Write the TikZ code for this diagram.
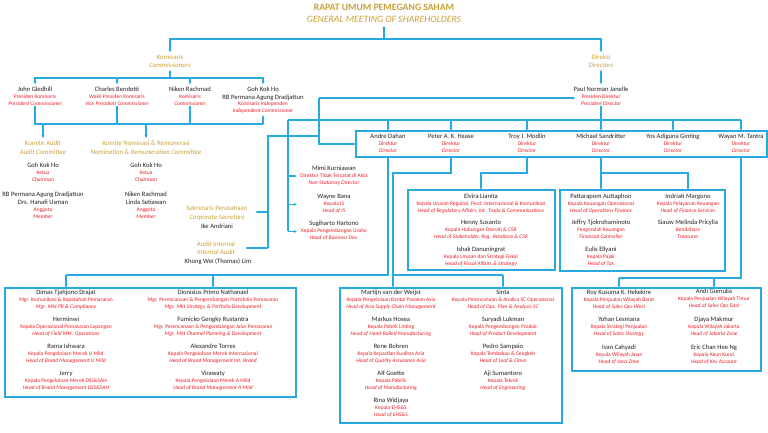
\documentclass[tikz,border=0pt]{standalone}
\usepackage{fontspec}
\setmainfont{Carlito}
\usepackage{tikz}
\usetikzlibrary{positioning,arrows.meta}
\usepackage{xcolor}
\definecolor{linkblue}{HTML}{29A9E1}
\definecolor{gold}{HTML}{C9A13A}
\definecolor{rolered}{HTML}{EC1C24}
\definecolor{ink}{HTML}{231F20}

\begin{document}
\begin{tikzpicture}[x=1pt, y=-1pt,
    nm/.style={font=\fontsize{6.6}{7}\selectfont, text=ink, inner sep=0pt, anchor=base, yshift=-2.2pt},
    rl/.style={font=\fontsize{5.5}{6}\selectfont, text=rolered, inner sep=0pt, anchor=base, yshift=-1.9pt},
    rli/.style={font=\fontsize{5.5}{6}\selectfont\itshape, text=rolered, inner sep=0pt, anchor=base, yshift=-1.9pt},
    gd/.style={font=\fontsize{6.8}{7}\selectfont, text=gold, inner sep=0pt, anchor=base, yshift=-2.3pt},
    gdi/.style={font=\fontsize{6.8}{7}\selectfont\itshape, text=gold, inner sep=0pt, anchor=base, yshift=-2.3pt},
    link/.style={draw=linkblue, line width=1.1pt},
    tip/.style={link, -{Latex[length=3.2pt,width=3.2pt]}},
    unit/.style={draw=linkblue, line width=1.2pt}]
    \useasboundingbox (0,0) rectangle (768,433);

    \node[font=\fontsize{9.7}{10}\selectfont\bfseries, text=gold, inner sep=0pt, anchor=base, yshift=-3.3pt] (rups) at (384,7) {RAPAT UMUM PEMEGANG SAHAM};
    \node[font=\fontsize{9.7}{10}\selectfont\itshape, text=gold, inner sep=0pt, anchor=base, yshift=-3.3pt] (gms) at (384,19) {GENERAL MEETING OF SHAREHOLDERS};

    \node[gd] (kom) at (170,57) {Komisaris};
    \node[gdi] (kom-e) at (170,65) {Commissioners};
    \node[gd] (dir) at (601,57) {Direksi};
    \node[gdi] (dir-e) at (601,65) {Directors};

    % people: name, role, role in english
    \foreach \id/\x/\y/\pn/\ra/\rb in {
        john/35/89/{John Gledhill}/{Presiden Komisaris}/{President Commissioner},
        charles/117/89/{Charles Bendotti}/{Wakil Presiden Komisaris}/{Vice President Commissioner},
        niken/190/89/{Niken Rachmad}/{Komisaris}/{Commissioner},
        paul/601/89/{Paul Norman Janelle}/{Presiden Direktur}/{President Director},
        andre/388/136/{Andre Dahan}/{Direktur}/{Director},
        peter/451/136/{Peter A. K. Haase}/{Direktur}/{Director},
        troy/527/136/{Troy J. Modlin}/{Direktur}/{Director},
        michael/601/136/{Michael Sandritter}/{Direktur}/{Director},
        yos/673/136/{Yos Adiguna Ginting}/{Direktur}/{Director},
        wayan/741/136/{Wayan M. Tantra}/{Direktur}/{Director},
        mimi/334/168/{Mimi Kurniawan}/{Direktur Tidak Tercatat di Akta}/{Non-Statutory Director},
        wayne/334/196/{Wayne Bana}/{Kepala IS}/{Head of IS},
        sugi/334/223/{Sugiharto Hartono}/{Kepala Pengembangan Usaha}/{Head of Business Dev.},
        elvira/481/196/{Elvira Lianita}/{Kepala Urusan Regulasi, Perd. Internasional \& Komunikasi}/{Head of Regulatory Affairs, Int. Trade \& Communications},
        henny/481/222/{Henny Susanto}/{Kepala Hubungan Daerah \& CSR}/{Head of Stakeholder, Reg. Relations \& CSR},
        ishak/481/249/{Ishak Danuningrat}/{Kepala Urusan dan Strategi Fiskal}/{Head of Fiscal Affairs \& Strategy},
        pattarapom/601/196/{Pattarapom Auttaphon}/{Kepala Keuangan Operasional}/{Head of Operations Finance},
        indriati/688/196/{Indriati Margono}/{Kepala Pelayanan Keuangan}/{Head of Finance Services},
        jeffry/601/222/{Jeffry Tjokrohaminoto}/{Pengendali Keuangan}/{Financial Controller},
        siauw/688/222/{Siauw Melinda Pricylia}/{Bendahara}/{Treasurer},
        eulis/601/249/{Eulis Ellyani}/{Kepala Pajak}/{Head of Tax},
        dimas/66/292/{Dimas Tjahjono Drajat}/{Mgr. Komunikasi \& Kepatuhan Pemasaran}/{Mgr. Mkt PR \& Compliance},
        herminwi/66/319/{Herminwi}/{Kepala Operasional Pemasaran Lapangan}/{Head of Field Mkt. Operations},
        rama/66/346/{Rama Ishwara}/{Kepala Pengelolaan Merek U Mild}/{Head of Brand Management U Mild},
        jerry/66/373/{Jerry}/{Kepala Pengelolaan Merek DSS\&SAH}/{Head of Brand Management DSS\&SAH},
        dionisius/213/292/{Dionisius Primo Nathanael}/{Mgr. Perencanaan \& Pengembangan Portofolio Pemasaran}/{Mgr. Mkt Strategy \& Portfolio Development},
        fumicko/213/319/{Fumicko Gengky Rustantra}/{Mgr. Perencanaan \& Pengembangan Jalur Pemasaran}/{Mgr. Mkt Channel Planning \& Development},
        alexandre/213/346/{Alexandre Torres}/{Kepala Pengelolaan Merek Internasional}/{Head of Brand Management Int. Brand},
        virawaty/213/373/{Virawaty}/{Kepala Pengelolaan Merek A Mild}/{Head of Brand Management A Mild},
        martijn/391/292/{Martijn van der Weijst}/{Kepala Pengelolaan Rantai Pasokan Asia}/{Head of Asia Supply Chain Management},
        markus/391/319/{Markus Hosea}/{Kepala Pabrik Linting}/{Head of Hand-Rolled Manufacturing},
        rene/391/346/{Rene Bohren}/{Kepala Kepastian Kualitas Asia}/{Head of Quality Assurance Asia},
        alf/391/373/{Alf Goette}/{Kepala Pabrik}/{Head of Manufacturing},
        rina/391/400/{Rina Widjaya}/{Kepala EHS\&S}/{Head of EHS\&S},
        sinta/503/292/{Sinta}/{Kepala Perencanaan \& Analisa SC Operasional}/{Head of Ops. Plan \& Analysis SC},
        suryadi/503/319/{Suryadi Lukman}/{Kepala Pengembangan Produk}/{Head of Product Development},
        pedro/503/346/{Pedro Sampaio}/{Kepala Tembakau \& Cengkeh}/{Head of Leaf \& Clove},
        aji/503/373/{Aji Sumantoro}/{Kepala Teknik}/{Head of Engineering},
        roy/619/292/{Roy Kusuma K. Hekekire}/{Kepala Penjualan Wilayah Barat}/{Head of Sales Ops West},
        andi/714/291/{Andi Gumulia}/{Kepala Penjualan Wilayah Timur}/{Head of Sales Ops East},
        yohan/619/319/{Yohan Lesmana}/{Kepala Strategi Penjualan}/{Head of Sales Strategy},
        djaya/714/319/{Djaya Makmur}/{Kepala Wilayah Jakarta}/{Head of Jakarta Zone},
        ivan/619/347/{Ivan Cahyadi}/{Kepala Wilayah Jawa}/{Head of Java Zone},
        eric/714/347/{Eric Chan Hee Ng}/{Kepala Akun Kunci}/{Head of Key Account}}
    {
        \node[nm] (\id) at (\x,\y) {\pn};
        \node[rl] (\id-r) at (\x,\y+8) {\ra};
        \node[rli] (\id-e) at (\x,\y+15) {\rb};
    }

    \node[nm] (goh) at (263,89) {Goh Kok Ho};
    \node[nm] (goh-b) at (263,97) {RB Permana Agung Dradjattun};
    \node[rl] (goh-r) at (263,104) {Komisaris Independen};
    \node[rli] (goh-e) at (263,111) {Independent Commissioner};

    % committees
    \node[gd] (audit) at (43,143) {Komite Audit};
    \node[gdi] (audit-e) at (43,152) {Audit Committee};
    \node[gd] (nomrem) at (146,143) {Komite Nominasi \& Remunerasi};
    \node[gdi] (nomrem-e) at (146,152) {Nomination \& Remuneration Committee};
    \foreach \c/\x/\ma/\mb in {ac/43/{RB Permana Agung Dradjattun}/{Drs. Hanafi Usman}, nc/146/{Niken Rachmad}/{Linda Setiawan}} {
        \node[nm] (\c-chair) at (\x,165) {Goh Kok Ho};
        \node[rl] at (\x,173) {Ketua};
        \node[rli] at (\x,180) {Chairman};
        \node[nm] (\c-ma) at (\x,194) {\ma};
        \node[nm] (\c-mb) at (\x,202) {\mb};
        \node[rl] at (\x,210) {Anggota};
        \node[rli] at (\x,217) {Member};
    }

    \node[gd] (sek) at (217,208) {Sekretaris Perusahaan};
    \node[gdi] (sek-e) at (217,217) {Corporate Secretary};
    \node[nm] (ike) at (217,226) {Ike Andriani};
    \node[gd] (ia) at (216,244) {Audit Internal};
    \node[gdi] (ia-e) at (216,252) {Internal Audit};
    \node[nm] (khong) at (218,261) {Khong Wei (Thomas) Lim};

    % frames
    \draw[unit] (356,131) coordinate (dirtop) rectangle (767,157) coordinate (dirbot);
    \draw[unit] (408,190) coordinate (regtop) rectangle (555,270);
    \draw[unit] (560,190) coordinate (fintop) rectangle (725,271);
    \draw[unit] (5,288) coordinate (mkttop) rectangle (296,397);
    \draw[unit] (340,288) coordinate (sctop) rectangle (562,423);
    \draw[unit] (572,288) coordinate (saltop) rectangle (761,371);

    % connectors
    \coordinate (gmsbar) at (384,39);
    \draw[link, {Latex[length=3.2pt,width=3.2pt]}-] ([yshift=-3pt]gms.south) -- (gmsbar);
    \draw[tip] (gmsbar) -| ([yshift=2pt]kom.north);
    \draw[tip] (gmsbar) -| ([yshift=2pt]dir.north);

    \coordinate (combar) at (170,78);
    \draw[link, {Latex[length=3.2pt,width=3.2pt]}-] ([yshift=-2pt]kom-e.south) -- (combar);
    \foreach \p in {john, charles, niken, goh}
        \draw[tip] (combar) -| ([yshift=2pt]\p.north);
    \draw[link, {Latex[length=3.2pt,width=3.2pt]}-{Latex[length=3.2pt,width=3.2pt]}] ([yshift=-2pt]dir-e.south) -- ([yshift=2pt]paul.north);

    \coordinate (cmbar) at (35,124);
    \draw[link] (john-e.south) -- (cmbar) -- (goh-e.south |- cmbar);
    \draw[link] (charles-e.south) -- (charles-e.south |- cmbar);
    \draw[link] (niken-e.south) -- (niken-e.south |- cmbar);
    \draw[tip] (goh-e.south |- cmbar) -- ([yshift=-1pt]goh-e.south);
    \draw[tip] (audit.north |- cmbar) -- ([yshift=2pt]audit.north);
    \draw[tip] (nomrem.north |- cmbar) -- ([yshift=2pt]nomrem.north);

    \coordinate (dbar) at (288,120);
    \draw[link] (paul-e.south) -- (paul-e.south |- dbar);
    \draw[link] (dbar) -- (wayan.north |- dbar);
    \foreach \d in {andre, peter, troy, michael, yos, wayan}
        \draw[tip] (\d.north |- dbar) -- (\d.north |- dirtop);

    \coordinate (pbend) at (319,98);
    \coordinate (dirwest) at (356,144);
    \draw[tip] (pbend) -- ([xshift=-6pt]paul-r.west |- pbend);
    \draw[tip] (pbend) |- (dirwest);

    \coordinate (sekbar) at (268,136);
    \coordinate (sekin) at (255,212);
    \coordinate (iain) at (245,248);
    \draw[link] (pbend |- sekbar) -- (sekbar) -- (sekbar |- iain);
    \draw[tip] (sekbar |- sekin) -- (sekin);
    \draw[tip] (sekbar |- iain) -- (iain);

    \coordinate (sidein) at (297,0);
    \draw[link] (dbar) -- (dbar |- sugi-r);
    \foreach \s in {mimi, wayne, sugi}
        \draw[tip] (dbar |- \s-r) -- (sidein |- \s-r);

    \coordinate (mbar) at (388,275);
    \draw[link] (andre.south |- dirbot) -- (mbar) -- (dimas.north |- mbar);
    \foreach \p in {dimas, dionisius}
        \draw[tip] (\p.north |- mbar) -- (\p.north |- mkttop);

    \coordinate (pcor) at (393,173);
    \draw[link] (peter.south |- dirbot) |- (pcor) -- (pcor |- mbar) -- (sinta.north |- mbar);
    \draw[tip] (pcor |- mbar) -- (pcor |- sctop);
    \draw[tip] (sinta.north |- mbar) -- (sinta.north |- sctop);

    \draw[tip] (troy.south |- dirbot) -- (troy.south |- pcor) -| (elvira.north |- regtop);
    \draw[tip] (michael.south |- dirbot) -- (michael.south |- fintop);
    \draw[tip] (michael.south |- pcor) -| (indriati.north |- fintop);

    \coordinate (sbar) at (741,278);
    \draw[link] (wayan.south |- dirbot) -- (sbar) -- (roy.north |- sbar);
    \foreach \p in {roy, andi}
        \draw[tip] (\p.north |- sbar) -- (\p.north |- saltop);
\end{tikzpicture}
\end{document}
